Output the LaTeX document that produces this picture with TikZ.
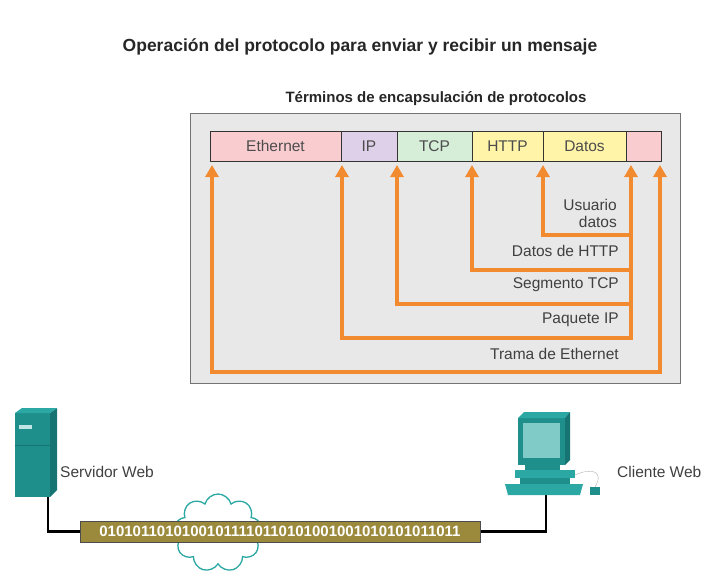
\documentclass[tikz,border=0pt]{standalone}
\usepackage{fontspec}
\setmainfont{Liberation Sans}
\usetikzlibrary{shapes.symbols,arrows.meta}
\definecolor{org}{HTML}{F28A30}
\definecolor{teal1}{HTML}{1F8F8C}
\definecolor{teal2}{HTML}{2BA8A4}
\definecolor{teal3}{HTML}{167573}
\tikzset{
 cell/.style={draw=black!80,line width=1pt,minimum height=30pt,inner sep=0pt,font=\fontsize{15.5}{18}\selectfont,text=black!70},
 oar/.style={draw=org,line width=4pt,-{Triangle[length=12pt,width=13pt]}},
 ol/.style={draw=org,line width=4pt},
 lab/.style={font=\fontsize{15.5}{17}\selectfont,text=black!75,anchor=east,inner sep=0pt,align=right},
}
\begin{document}
\begin{tikzpicture}[x=1pt,y=-1pt]
\useasboundingbox (0,0) rectangle (717,578);
\node[font=\bfseries\fontsize{17.5}{20}\selectfont,text=black!85] (title) at (360,47) {Operación del protocolo para enviar y recibir un mensaje};
\node[font=\bfseries\fontsize{15}{17}\selectfont,text=black!85] (sub) at (436,99) {Términos de encapsulación de protocolos};
\draw[draw=black!55,fill=black!9,line width=1pt] (190,113) rectangle (680,383);
\foreach \a/\b/\c/\t/\n in {210/341/F9CCD0/Ethernet/eth,341/397/DDD0E8/IP/ip,397/472/D6EDD8/TCP/tcp,472/543/FFF4A8/HTTP/http,543/626/FFF4A8/Datos/dat,626/661/F9CCD0/{}/tr}{
 \definecolor{cc}{HTML}{\c}
 \node[cell,fill=cc,minimum width={\b-\a}] (\n) at ({(\a+\b)/2},146) {\t};
}
% arrows
\draw[ol] (543,235) -- (631,235);
\draw[ol] (472,270) -- (631,270);
\draw[ol] (397,304) -- (631,304);
\draw[ol] (342,338) -- (631,338);
\draw[ol] (212,372) -- (660,372);
\foreach \x/\y in {543/235,472/270,397/304,342/338,212/372,660/372,631/338}{
 \draw[oar] (\x,\y+2) -- (\x,165);
}
\node[lab] (l1) at (617,213) {Usuario\\datos};
\node[lab] (l2) at (619,251) {Datos de HTTP};
\node[lab] (l3) at (619,285) {Segmento TCP};
\node[lab] (l4) at (619,320) {Paquete IP};
\node[lab] (l5) at (619,354) {Trama de Ethernet};
% cloud
\node[cloud,cloud puffs=9,draw=teal2,line width=1.3pt,fill=white,minimum width=88pt,minimum height=78pt,aspect=1.1] (cloud) at (218,533) {};
% links
\coordinate (sv) at (48,497);
\coordinate (pc) at (546,492);
\node[fill={rgb,255:red,156;green,138;blue,60},draw=black!70,line width=1pt,minimum width=400pt,minimum height=21pt,inner sep=0pt,font=\bfseries\fontsize{15}{16}\selectfont,text=white] (bits) at (280,531.5) {01010110101001011110110101001001010101011011};
\draw[line width=2.5pt] (sv) |- (bits.west);
\draw[line width=2.5pt] (pc) |- (bits.east);
% server
\fill[teal1] (15,413) rectangle (50,497);
\fill[teal3] (50,413) -- (57,408) -- (57,490) -- (50,497) -- cycle;
\fill[teal2] (15,413) -- (22,408) -- (57,408) -- (50,413) -- cycle;
\draw[teal3,line width=0.8pt] (15,445) -- (50,445);
\fill[white!70!teal2] (19,425) rectangle (32,429);
\node[font=\fontsize{15.5}{17}\selectfont,text=black!75,anchor=west,inner sep=0pt] (svl) at (60,472) {Servidor Web};
% pc
\fill[teal1] (518,418) rectangle (565,465);
\fill[teal2] (518,418) -- (524,412) -- (570,412) -- (565,418) -- cycle;
\fill[teal3] (565,418) -- (570,412) -- (570,460) -- (565,465) -- cycle;
\fill[teal2!60!white] (523,423) rectangle (560,458);
\fill[teal1] (525,465) rectangle (560,470);
\fill[teal2] (515,470) rectangle (575,478);
\fill[teal1] (520,478) rectangle (570,484);
\fill[teal2] (505,484) -- (583,484) -- (580,495) -- (508,495) -- cycle;
\fill[teal1] (590,487) rectangle (600,495);
\draw[black!30] (575,475) .. controls (590,468) and (605,470) .. (595,487);
\node[font=\fontsize{15.5}{17}\selectfont,text=black!75,anchor=west,inner sep=0pt] (pcl) at (617,472) {Cliente Web};
\end{tikzpicture}
\end{document}
